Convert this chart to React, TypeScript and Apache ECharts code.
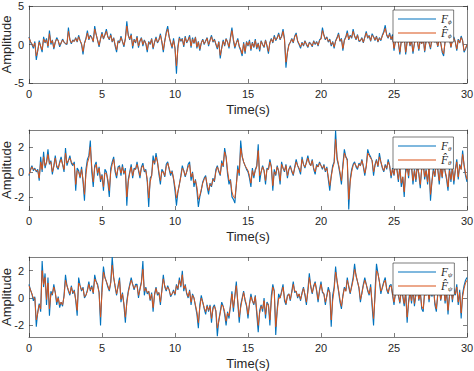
import React, { useEffect, useRef } from "react";
import * as echarts from "echarts";

const sampleStep = 0.1;
const timeMin = 0;
const timeMax = 30;
const timeInterval = 5;

// Panel 1: F_phi (measured) and its estimate
const fPhi = [
  1.0, 0.3, 0.0, -0.5, 0.4, -2.0, -0.8, 0.5, -0.3, -1.0,
  1.0, 0.2, 0.8, -0.4, 1.8, 0.0, 0.6, -0.6, 0.3, 0.9,
  0.5, -0.3, 0.2, 0.7, 0.3, 0.1, 0.0, 2.2, 0.6, 0.1,
  0.6, 0.4, 0.9, 0.3, 1.2, 0.5, 0.0, -1.3, 0.2, 0.8,
  1.8, 0.6, 1.2, 0.9, 0.3, 2.4, 1.3, 0.5, -0.3, 0.8,
  1.6, 0.7, 1.3, 2.0, 1.0, 0.6, 1.4, 0.3, 0.9, -0.2,
  -1.0, 0.5, 0.2, 1.1, 0.4, -0.3, 0.8, 3.0, 1.2, 0.6,
  1.4, -0.5, 0.7, 0.2, 1.1, -0.4, 0.5, 0.9, -0.2, 0.6,
  0.1, -1.0, 0.4, 0.0, 0.8, -0.6, 0.3, 1.0, 0.2, 0.6,
  1.4, 0.3, -1.0, 0.5, 1.6, 2.4, 1.0, 0.2, -0.5, 0.8,
  -0.5, -3.8, -0.2, 1.0, 0.4, 0.8, -0.3, 1.1, 0.2, 0.6,
  1.2, -0.4, 0.9, 0.1, 1.0, -0.5, 0.4, -0.8, 0.2, 0.7,
  0.0, 0.5, 0.9, -0.2, 0.6, 1.2, 0.3, 0.7, 0.0, -0.6,
  0.4, -1.8, -0.4, 0.6, -0.2, 0.8, 0.3, -0.5, 1.0, 2.2,
  0.5, -0.5, 0.2, 0.8, -0.3, -0.8, -1.5, 0.3, -1.2, 0.4,
  -0.2, 0.6, -0.8, 0.3, -0.4, 0.7, -0.6, 0.2, -0.9, 0.5,
  0.0, -0.4, 0.6, -0.2, -1.2, 0.3, 0.8, 0.2, 1.2, 0.5,
  0.9, 1.5, 0.6, 1.1, 2.0, 0.7, -3.0, -1.0, 0.0, 0.3,
  0.8, 0.2, 1.1, 1.5, 0.4, 0.0, -0.5, 0.3, -0.2, 0.5,
  0.0, -0.4, 0.3, 0.1, -0.3, 0.5, 0.0, 0.4, -0.2, 0.6,
  0.8, 2.2, 1.2, 0.6, 1.0, 0.3, 0.7, -0.2, 0.4, -0.5,
  0.5, 0.9, 1.5, 0.4, 0.8, -0.8, 0.6, 1.0, 1.8, 0.6,
  1.2, 0.8, 2.0, 1.1, 0.6, 1.3, 0.4, 0.5, 0.9, 0.2,
  1.0, 1.7, 0.8, 1.2, 0.4, 1.4, 1.0, 0.5, 1.1, 0.3,
  0.9, 0.5, 1.2, 1.7, 2.5, 1.2, 0.8, 1.5, 0.6, 1.3,
  -0.8, 0.5, 1.0, 0.2, -1.3, 0.6, 0.3, 1.0, -1.3, 0.4,
  0.8, -0.2, 0.6, -1.2, 0.2, 1.0, 0.4, -0.8, 0.7, 0.1,
  1.0, -1.0, 0.5, 0.9, 0.2, -0.6, 0.8, 1.1, 0.3, 0.6,
  -0.3, 0.9, 0.2, -1.0, -1.5, 0.5, 1.2, 0.4, 0.8, -0.4,
  0.6, 1.0, 0.3, -0.8, 0.7, 0.2, 1.1, 0.5, -1.0, -0.6,
  0.0,
];
const fPhiHat = [
  0.9, 0.4, 0.1, -0.3, 0.2, -1.5, -0.8, 0.3, -0.2, -0.7,
  0.7, 0.3, 0.6, -0.2, 1.4, 0.2, 0.5, -0.4, 0.3, 0.7,
  0.5, -0.1, 0.2, 0.6, 0.3, 0.1, 0.1, 1.7, 0.7, 0.2,
  0.5, 0.4, 0.8, 0.4, 1.0, 0.5, 0.1, -0.9, 0.1, 0.7,
  1.5, 0.7, 1.1, 0.9, 0.4, 2.0, 1.3, 0.6, -0.1, 0.7,
  1.4, 0.8, 1.2, 1.7, 1.0, 0.7, 1.2, 0.4, 0.8, 0.0,
  -0.7, 0.4, 0.3, 0.9, 0.4, -0.1, 0.7, 2.4, 1.2, 0.7,
  1.2, -0.2, 0.6, 0.3, 0.9, -0.2, 0.4, 0.8, 0.0, 0.5,
  0.2, -0.7, 0.3, 0.1, 0.7, -0.4, 0.3, 0.8, 0.3, 0.6,
  1.2, 0.4, -0.7, 0.4, 1.4, 2.0, 1.0, 0.3, -0.3, 0.5,
  -0.5, -2.8, -0.5, 0.8, 0.5, 0.7, -0.1, 0.9, 0.3, 0.6,
  1.0, -0.2, 0.7, 0.2, 0.9, -0.3, 0.3, -0.6, 0.2, 0.6,
  0.1, 0.4, 0.8, 0.0, 0.5, 1.0, 0.4, 0.6, 0.1, -0.4,
  0.3, -1.4, -0.5, 0.4, -0.1, 0.7, 0.3, -0.3, 0.8, 1.8,
  0.7, -0.3, 0.2, 0.6, -0.2, -0.6, -1.2, 0.1, -0.9, 0.3,
  -0.1, 0.4, -0.6, 0.2, -0.3, 0.5, -0.4, 0.1, -0.7, 0.4,
  0.0, -0.3, 0.5, -0.1, -0.9, 0.2, 0.7, 0.3, 1.0, 0.6,
  0.8, 1.3, 0.7, 1.0, 1.7, 0.6, -2.3, -1.1, -0.1, 0.3,
  0.7, 0.3, 1.0, 1.3, 0.5, 0.1, -0.3, 0.2, -0.1, 0.4,
  0.1, -0.3, 0.2, 0.1, -0.2, 0.4, 0.1, 0.3, -0.1, 0.5,
  0.7, 1.8, 1.2, 0.7, 0.9, 0.4, 0.6, 0.0, 0.3, -0.3,
  0.4, 0.8, 1.3, 0.5, 0.7, -0.5, 0.5, 0.9, 1.5, 0.7,
  1.1, 0.9, 1.7, 1.1, 0.7, 1.2, 0.5, 0.5, 0.8, 0.3,
  0.9, 1.5, 0.9, 1.1, 0.5, 1.2, 1.0, 0.6, 1.0, 0.4,
  0.8, 0.6, 1.1, 1.5, 2.1, 1.3, 0.9, 1.3, 0.7, 1.1,
  -0.5, 0.4, 0.8, 0.2, -1.0, 0.4, 0.3, 0.8, -1.0, 0.3,
  0.7, -0.1, 0.5, -0.9, 0.1, 0.8, 0.4, -0.6, 0.6, 0.1,
  0.8, -0.8, 0.4, 0.8, 0.2, -0.4, 0.7, 0.9, 0.3, 0.5,
  -0.2, 0.7, 0.2, -0.8, -1.2, 0.3, 1.0, 0.4, 0.7, -0.3,
  0.5, 0.8, 0.3, -0.6, 0.6, 0.2, 0.9, 0.5, -0.8, -0.5,
  0.0,
];

// Panel 2: F_theta and its estimate
const fTheta = [
  -0.3, 0.2, 0.5, 0.1, 0.3, 0.0, 0.2, -0.7, 1.2, 0.0,
  1.6, 0.3, 0.8, 1.8, 0.6, 0.9, -0.2, 0.5, 1.3, 0.4,
  0.2, 0.8, 1.2, 0.6, 0.0, 1.9, 0.5, 0.9, 1.3, 0.7,
  0.5, 0.8, -1.5, 0.3, 0.1, -0.5, 0.4, -0.8, -2.3, 0.2,
  1.0, 1.3, 2.5, 0.0, -1.2, 0.5, 0.8, -0.3, 0.4, -0.8,
  -0.2, -1.5, 0.2, 0.0, -0.8, -2.0, 0.3, 0.8, 1.2, 0.0,
  -0.5, 0.4, 0.5, -0.3, 0.6, -0.2, 0.3, -2.7, -0.6, 0.0,
  0.6, -0.5, 0.3, 0.2, 0.8, 0.1, -0.5, 0.4, 0.7, 0.0,
  0.2, -0.8, -2.8, -0.5, -0.3, 1.3, 0.6, 1.5, 0.8, -0.2,
  -1.0, 0.2, 0.0, -0.4, 0.6, 0.8, 0.2, -0.3, 0.1, -0.6,
  -1.5, -2.7, -1.6, -1.0, -0.3, 0.5, 0.1, -0.4, 0.0, 0.6,
  0.8, -0.7, 0.0, -1.2, -0.6, -1.5, -2.8, -2.0, -1.5, -0.8,
  -0.5, -0.3, -1.2, -1.8, -0.9, -1.2, -0.5, -0.8, 0.2, 0.5,
  0.0, -0.3, 0.9, 0.4, 1.9, 1.2, -0.2, -1.0, -0.6, -2.0,
  -2.2, -2.5, -1.0, 0.5, -0.3, 2.5, 1.2, 0.8, 0.5, 0.2,
  0.0, -0.5, -1.2, 0.3, -0.5, 0.2, 0.5, 2.2, -0.8, 0.0,
  0.5, 0.1, -1.0, 0.3, 0.2, 1.0, 0.4, -1.5, 0.2, -0.3,
  0.5, 0.0, -1.0, 0.8, 0.3, 0.0, 0.6, -0.5, 0.2, 0.5,
  0.0, -0.3, 0.4, 1.0, 0.5, 0.2, -0.2, 1.2, 0.6, 0.3,
  0.8, 1.3, 0.7, 0.5, 1.0, 0.2, -0.2, 0.6, 0.4, 0.8,
  0.5, 0.2, 0.6, 0.0, 0.4, -0.6, -1.5, -0.3, 0.5, 0.8,
  3.3, 1.0, 0.5, -0.2, -1.0, 0.6, 1.8, 1.2, 1.0, -3.0,
  -0.6, 0.2, 0.6, 0.8, 0.4, 0.2, 0.7, 0.5, 1.0, 0.4,
  -0.3, 0.5, 1.8, 1.4, 1.2, 0.9, -0.3, 0.6, 1.0, 0.4,
  1.5, 0.8, 0.3, 0.0, 0.6, 0.2, 1.0, 0.5, -0.5, 0.3,
  -0.3, 0.8, 0.2, -0.8, 0.5, -1.2, -0.4, -2.0, 0.2, 0.6,
  -0.5, 1.3, 0.4, -1.0, 0.2, -0.8, 0.7, -0.2, -1.3, 0.4,
  0.8, -0.6, 0.2, -1.0, 0.5, -2.3, -0.7, 0.3, -0.4, 0.9,
  0.2, -1.0, 0.6, -0.5, 0.9, 0.0, -0.6, -1.5, 0.3, -0.8,
  0.5, -1.0, 0.2, 1.0, -0.6, 0.6, 0.2, 1.7, 0.5, -0.3,
  -0.8,
];
const fThetaHat = [
  -0.2, 0.1, 0.4, 0.2, 0.2, 0.1, 0.1, -0.5, 0.8, 0.2,
  1.2, 0.5, 0.7, 1.4, 0.7, 0.8, 0.0, 0.4, 1.1, 0.5,
  0.3, 0.7, 1.0, 0.6, 0.2, 1.5, 0.7, 0.9, 1.1, 0.8,
  0.6, 0.6, -1.0, 0.1, 0.0, -0.4, 0.2, -0.6, -1.8, -0.2,
  0.7, 1.1, 2.0, 0.4, -0.8, 0.3, 0.6, -0.1, 0.3, -0.6,
  -0.3, -1.2, -0.1, -0.1, -0.6, -1.5, 0.0, 0.6, 1.0, 0.2,
  -0.3, 0.3, 0.4, -0.1, 0.4, -0.1, 0.1, -2.0, -0.8, -0.1,
  0.4, -0.3, 0.2, 0.2, 0.6, 0.2, -0.3, 0.3, 0.5, 0.1,
  0.1, -0.6, -2.1, -0.8, -0.3, 0.9, 0.7, 1.2, 0.8, 0.0,
  -0.7, 0.0, 0.0, -0.3, 0.4, 0.7, 0.3, -0.1, 0.0, -0.5,
  -1.2, -2.1, -1.6, -1.0, -0.4, 0.3, 0.1, -0.3, 0.0, 0.4,
  0.6, -0.4, -0.1, -0.9, -0.7, -1.2, -2.2, -1.9, -1.4, -0.9,
  -0.6, -0.4, -1.0, -1.5, -1.0, -1.1, -0.6, -0.7, 0.0, 0.4,
  0.1, -0.2, 0.7, 0.5, 1.6, 1.2, 0.1, -0.7, -0.7, -1.6,
  -2.0, -2.1, -1.1, 0.2, -0.1, 1.9, 1.3, 0.8, 0.5, 0.3,
  0.1, -0.3, -0.9, 0.1, -0.3, 0.1, 0.4, 1.7, -0.3, 0.0,
  0.4, 0.1, -0.7, 0.2, 0.2, 0.8, 0.4, -1.1, 0.0, -0.2,
  0.4, 0.1, -0.7, 0.6, 0.3, 0.1, 0.5, -0.3, 0.2, 0.4,
  0.1, -0.2, 0.3, 0.8, 0.5, 0.3, 0.0, 1.0, 0.6, 0.4,
  0.7, 1.1, 0.7, 0.5, 0.9, 0.3, 0.0, 0.5, 0.4, 0.7,
  0.5, 0.3, 0.5, 0.1, 0.3, -0.4, -1.1, -0.4, 0.3, 0.7,
  2.6, 1.2, 0.6, 0.0, -0.7, 0.4, 1.5, 1.2, 0.9, -2.2,
  -0.8, 0.0, 0.5, 0.7, 0.5, 0.3, 0.6, 0.5, 0.9, 0.5,
  -0.1, 0.4, 1.5, 1.3, 1.1, 0.9, 0.0, 0.5, 0.9, 0.5,
  1.2, 0.8, 0.4, 0.1, 0.5, 0.3, 0.8, 0.5, -0.3, 0.2,
  -0.2, 0.6, 0.2, -0.6, 0.3, -0.9, -0.4, -1.6, -0.1, 0.4,
  -0.3, 1.0, 0.5, -0.7, 0.1, -0.6, 0.5, -0.1, -1.0, 0.2,
  0.6, -0.4, 0.1, -0.8, 0.3, -1.8, -0.8, 0.1, -0.3, 0.7,
  0.2, -0.7, 0.4, -0.4, 0.7, 0.1, -0.4, -1.2, 0.1, -0.6,
  0.3, -0.7, 0.1, 0.8, -0.4, 0.5, 0.2, 1.4, 0.6, -0.1,
  -0.6,
];

// Panel 3: F_psi and its estimate
const fPsi = [
  1.0, 0.6, 0.3, -0.2, 0.1, -2.1, -1.0, -0.4, -1.0, 2.7,
  0.8, 1.8, -0.5, 1.5, -1.3, 0.5, 0.2, 1.0, 0.4, -0.5,
  0.1, -0.7, -0.3, -0.6, 0.2, 1.7, 0.9, 0.5, 0.2, 0.9,
  0.3, 0.6, -0.2, -1.3, 1.5, 0.9, 0.5, 0.8, 0.0, 0.2,
  0.6, 1.2, 0.5, 0.9, 0.3, 1.7, 1.2, 1.0, 0.4, -2.0,
  0.8, 2.3, 1.5, 1.2, 0.8, 0.5, 1.2, 3.0, 1.5, 0.8,
  0.2, 0.9, 1.5, -0.3, 0.4, -0.5, -1.8, -0.2, 0.5, 1.0,
  1.5, 1.0, 0.6, 1.0, 1.0, 0.0, 0.7, 1.2, 2.7, 0.2,
  0.8, 0.3, 0.5, -0.2, 0.4, -1.0, 0.3, 0.8, 0.2, 0.4,
  -0.5, 0.6, 1.7, 0.8, 0.5, 0.9, 0.6, 0.1, 0.3, 0.6,
  0.2, 1.0, 0.6, 1.5, 0.8, 2.0, 0.5, 1.0, 0.3, 0.0,
  0.6, -0.5, 0.3, 0.0, -0.6, -1.2, -2.2, -0.5, 0.2, -0.3,
  -0.8, -1.2, -0.5, -1.0, -0.5, -1.8, -0.7, -0.5, -1.0, -2.8,
  -1.6, -1.0, -0.3, -0.6, -1.2, -2.0, -1.0, -1.5, -0.5, 0.5,
  -1.0, 0.2, 1.2, -0.4, -1.8, -0.5, 0.0, 0.5, -0.2, -0.6,
  -1.5, -0.4, 0.3, -0.2, -0.5, 0.2, -1.2, -2.5, -0.9, -0.5,
  -1.0, 0.0, -1.5, -0.3, -0.5, -2.0, 0.2, 1.0, 0.5, -2.7,
  -0.8, 0.3, 0.0, 0.5, 1.0, -0.2, -0.5, 0.2, 0.3, -0.2,
  0.5, 1.2, 0.4, 0.5, 0.0, 0.3, -0.2, 0.4, 0.8, 0.2,
  -0.5, 0.6, 1.8, 0.8, 0.3, 0.9, 1.2, 0.5, -0.3, 0.6,
  1.2, 0.4, 0.3, -0.5, 0.2, 0.8, 0.4, -2.1, 0.2, 0.8,
  2.3, 1.2, 0.5, -0.3, -0.8, 0.2, 0.8, 0.5, 1.5, 0.8,
  0.3, 0.9, 1.5, 2.5, 1.6, 1.2, 0.7, -0.3, 0.4, 1.0,
  1.5, 1.0, 0.5, 0.2, 1.0, -0.6, -2.0, 0.5, 2.5, 1.8,
  1.2, 0.3, 0.8, 1.2, 1.5, 0.6, 0.3, 0.9, 1.0, 0.2,
  -0.5, 0.4, 1.0, 0.2, -0.4, 0.7, 0.1, -0.6, 0.5, -1.8,
  -0.2, 0.6, -0.4, 0.8, -0.6, 0.3, 0.9, -0.2, 0.5, -0.8,
  -1.0, 0.6, 0.2, 1.0, -0.3, 0.7, 0.1, 0.9, -0.5, -1.0,
  0.4, 0.8, -0.2, 0.5, 1.0, -0.4, 0.6, -1.2, 0.3, 0.9,
  -0.3, 0.7, 0.2, 1.0, -0.5, 0.6, -1.5, 0.3, 0.9, 1.3,
  1.5,
];
const fPsiHat = [
  0.9, 0.6, 0.3, 0.0, 0.0, -1.6, -1.1, -0.5, -0.8, 2.0,
  1.0, 1.5, -0.1, 1.1, -0.8, 0.3, 0.3, 0.8, 0.4, -0.3,
  0.0, -0.5, -0.3, -0.5, 0.1, 1.3, 0.9, 0.6, 0.3, 0.8,
  0.4, 0.5, -0.1, -0.9, 1.1, 0.9, 0.6, 0.7, 0.1, 0.2,
  0.5, 1.0, 0.6, 0.8, 0.4, 1.4, 1.2, 0.9, 0.4, -1.4,
  0.4, 1.9, 1.5, 1.2, 0.9, 0.6, 1.1, 2.4, 1.5, 0.9,
  0.3, 0.8, 1.3, -0.1, 0.3, -0.4, -1.4, -0.4, 0.4, 0.9,
  1.3, 1.0, 0.7, 0.9, 0.9, 0.2, 0.6, 1.1, 2.1, 0.5,
  0.7, 0.4, 0.5, -0.1, 0.3, -0.7, 0.2, 0.7, 0.3, 0.4,
  -0.3, 0.5, 1.4, 0.9, 0.6, 0.8, 0.6, 0.2, 0.3, 0.5,
  0.3, 0.9, 0.7, 1.3, 0.9, 1.7, 0.7, 0.9, 0.4, 0.1,
  0.5, -0.3, 0.2, 0.0, -0.5, -1.0, -1.8, -0.7, 0.0, -0.3,
  -0.7, -1.0, -0.6, -0.9, -0.6, -1.5, -0.8, -0.6, -0.9, -2.2,
  -1.7, -1.1, -0.5, -0.6, -1.0, -1.7, -1.1, -1.3, -0.6, 0.3,
  -0.7, 0.1, 0.9, -0.2, -1.4, -0.7, -0.1, 0.4, -0.1, -0.5,
  -1.2, -0.5, 0.1, -0.2, -0.4, 0.1, -0.9, -2.0, -1.1, -0.6,
  -0.8, -0.2, -1.2, -0.4, -0.5, -1.6, -0.2, 0.8, 0.5, -2.1,
  -1.0, 0.0, 0.0, 0.4, 0.8, 0.0, -0.4, 0.1, 0.3, -0.1,
  0.4, 1.0, 0.5, 0.5, 0.1, 0.3, -0.1, 0.3, 0.7, 0.3,
  -0.3, 0.4, 1.5, 0.9, 0.4, 0.8, 1.1, 0.6, -0.1, 0.5,
  1.0, 0.5, 0.3, -0.3, 0.1, 0.6, 0.4, -1.6, -0.2, 0.6,
  1.9, 1.3, 0.6, -0.1, -0.6, 0.1, 0.7, 0.5, 1.3, 0.9,
  0.4, 0.8, 1.3, 2.1, 1.7, 1.2, 0.8, -0.1, 0.3, 0.9,
  1.3, 1.0, 0.6, 0.3, 0.8, -0.3, -1.5, 0.0, 2.0, 1.8,
  1.2, 0.5, 0.7, 1.1, 1.3, 0.7, 0.4, 0.8, 0.9, 0.3,
  -0.3, 0.3, 0.8, 0.3, -0.3, 0.5, 0.2, -0.4, 0.3, -1.4,
  -0.4, 0.4, -0.2, 0.6, -0.4, 0.2, 0.7, -0.1, 0.4, -0.6,
  -0.8, 0.3, 0.2, 0.8, -0.1, 0.5, 0.2, 0.7, -0.3, -0.8,
  0.2, 0.7, -0.1, 0.4, 0.8, -0.2, 0.4, -0.9, 0.1, 0.7,
  -0.1, 0.5, 0.3, 0.8, -0.3, 0.4, -1.1, 0.1, 0.7, 1.1,
  1.3,
];

const yTicks1 = [-5, 0, 5];
const yTicks2 = [-2, 0, 2];
const yTicks3 = [-2, 0, 2];
const yRange1 = [-5, 5];
const yRange2 = [-3.05, 3.35];
const yRange3 = [-2.85, 3.0];

const subscripts = ["\u03D5", "\u03B8", "\u03C8"];

const BLUE = "#0072BD";
const ORANGE = "#D95319";
const AX = "#262626";
const SANS = "'Liberation Sans', Arial, Helvetica, sans-serif";
const SERIF = "'Liberation Serif', 'DejaVu Serif', serif";

export default function App() {
  const ref = useRef<HTMLDivElement>(null);

  useEffect(() => {
    if (!ref.current) return;
    const chart = echarts.init(ref.current, null, { renderer: "svg" });

    const panels = [
      { top: 6, height: 77, range: yRange1, ticks: yTicks1, a: fPhi, b: fPhiHat, legendTop: 10 },
      { top: 130, height: 80, range: yRange2, ticks: yTicks2, a: fTheta, b: fThetaHat, legendTop: 137 },
      { top: 257, height: 80, range: yRange3, ticks: yTicks3, a: fPsi, b: fPsiHat, legendTop: 263 },
    ];

    const toPairs = (vals: number[]) =>
      vals.map((v, i) => [Math.round(i * sampleStep * 10) / 10, v]);

    const grid: any[] = [];
    const xAxis: any[] = [];
    const yAxis: any[] = [];
    const series: any[] = [];
    const legend: any[] = [];
    const labelMap: Record<string, string> = {};

    panels.forEach((p, i) => {
      grid.push({
        left: 29,
        right: 7,
        top: p.top,
        height: p.height,
        containLabel: false,
        outerBoundsMode: "none",
      });
      const lineStyle = { color: AX, width: 0.6 };
      xAxis.push({
        type: "value",
        gridIndex: i,
        position: "bottom",
        min: timeMin,
        max: timeMax,
        interval: timeInterval,
        axisLine: { show: true, onZero: false, lineStyle },
        axisTick: { show: true, inside: true, length: 4, lineStyle },
        axisLabel: { show: true, color: AX, fontSize: 11, margin: 5, fontFamily: SANS },
        splitLine: { show: false },
        name: "Time(s)",
        nameLocation: "middle",
        nameGap: 20,
        nameMoveOverlap: false,
        nameTextStyle: { color: AX, fontSize: 13, fontFamily: SANS },
      });
      xAxis.push({
        type: "value",
        gridIndex: i,
        position: "top",
        min: timeMin,
        max: timeMax,
        interval: timeInterval,
        axisLine: { show: true, onZero: false, lineStyle },
        axisTick: { show: true, inside: true, length: 4, lineStyle },
        axisLabel: { show: false },
        splitLine: { show: false },
      });
      yAxis.push({
        type: "value",
        gridIndex: i,
        position: "left",
        min: p.range[0],
        max: p.range[1],
        axisLine: { show: true, onZero: false, lineStyle },
        axisTick: { show: true, inside: true, length: 4, lineStyle, customValues: p.ticks },
        axisLabel: { show: true, color: AX, fontSize: 11, margin: 5, fontFamily: SANS, customValues: p.ticks },
        splitLine: { show: false },
        name: "Amplitude",
        nameLocation: "middle",
        nameGap: 16,
        nameMoveOverlap: false,
        nameTextStyle: { color: AX, fontSize: 13, fontFamily: SANS },
      });
      yAxis.push({
        type: "value",
        gridIndex: i,
        position: "right",
        min: p.range[0],
        max: p.range[1],
        axisLine: { show: true, onZero: false, lineStyle },
        axisTick: { show: true, inside: true, length: 4, lineStyle, customValues: p.ticks },
        axisLabel: { show: false, customValues: p.ticks },
        splitLine: { show: false },
      });

      const nameA = "F" + i;
      const nameB = "Fhat" + i;
      labelMap[nameA] = "{f|F}{s|" + subscripts[i] + "}";
      labelMap[nameB] = "{f|F\u0302}{s|" + subscripts[i] + "}";

      series.push({
        name: nameA,
        type: "line",
        xAxisIndex: i * 2,
        yAxisIndex: i * 2,
        data: toPairs(p.a),
        showSymbol: false,
        symbol: "none",
        lineStyle: { color: BLUE, width: 1.1 },
        itemStyle: { color: BLUE },
        z: 2,
      });
      series.push({
        name: nameB,
        type: "line",
        xAxisIndex: i * 2,
        yAxisIndex: i * 2,
        data: toPairs(p.b),
        showSymbol: false,
        symbol: "none",
        lineStyle: { color: ORANGE, width: 1 },
        itemStyle: { color: ORANGE },
        z: 3,
      });

      const iconItem = (name: string, color: string) => ({
        name,
        icon: "rect",
        itemStyle: { color, borderWidth: 0, borderColor: color, opacity: 1 },
        lineStyle: { width: 0, opacity: 0 },
      });

      legend.push({
        data: [iconItem(nameA, BLUE), iconItem(nameB, ORANGE)],
        orient: "vertical",
        left: 393,
        top: p.legendTop,
        itemWidth: 38,
        itemHeight: 1,
        itemGap: 2,
        padding: [3, 2, 3, 5],
        backgroundColor: "#ffffff",
        borderColor: AX,
        borderWidth: 0.6,
        borderRadius: 0,
        selectedMode: false,
        formatter: (name: string) => labelMap[name],
        textStyle: {
          color: AX,
          rich: {
            f: { fontFamily: SERIF, fontStyle: "italic", fontSize: 11.5, color: AX },
            s: { fontFamily: SERIF, fontStyle: "italic", fontSize: 7, color: AX, verticalAlign: "bottom", padding: [5, 0, 0, 0] },
          },
        },
      });
    });

    chart.setOption({
      animation: false,
      backgroundColor: "#ffffff",
      textStyle: { fontFamily: SANS },
      grid,
      xAxis,
      yAxis,
      series,
      legend,
    });

    return () => chart.dispose();
  }, []);

  return (
    <div
      ref={ref}
      style={{ position: "fixed", left: 0, top: 0, width: 474, height: 371, background: "#fff" }}
    />
  );
}
